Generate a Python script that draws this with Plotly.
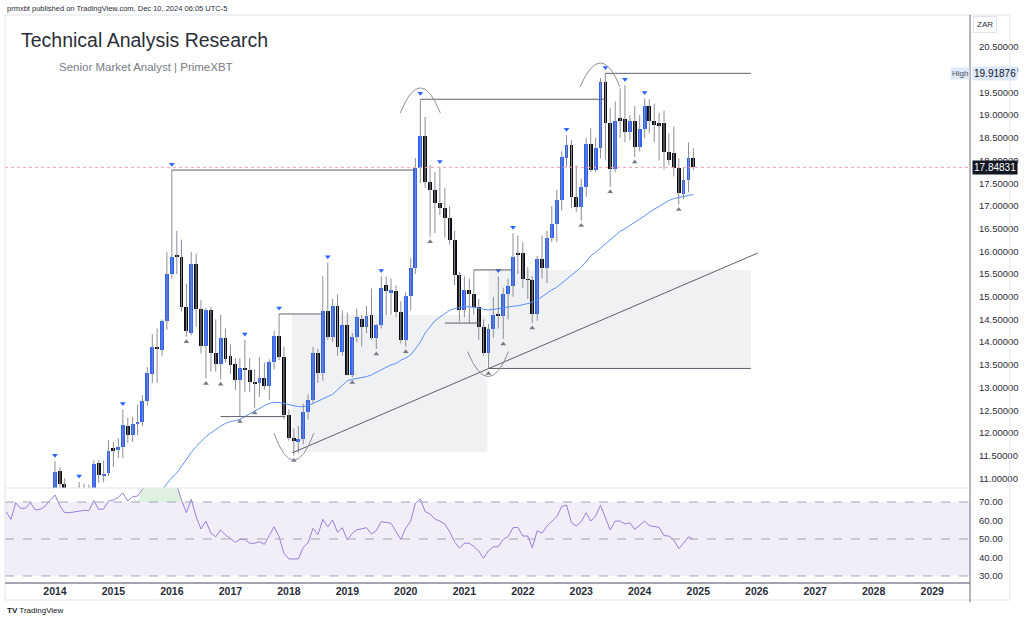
import plotly.graph_objects as go
import pandas as pd

# ---------------- DATA (USD/ZAR monthly) ----------------
dates = pd.date_range('2014-01-01', periods=132, freq='MS')

opens = [10.47, 11.16, 10.88, 10.55, 10.50, 10.45, 10.63, 10.72, 10.66, 11.33, 11.06, 11.11,
         11.66, 11.62, 11.70, 12.15, 11.95, 12.20, 12.23, 12.71, 13.30, 13.88, 13.83, 14.46,
         15.50, 15.92, 15.88, 14.78, 14.21, 15.72, 14.74, 13.91, 14.70, 13.76, 13.52, 14.10,
         13.70, 13.52, 13.17, 13.42, 13.39, 13.13, 13.09, 13.21, 13.03, 13.57, 14.13, 13.68,
         12.39, 11.88, 11.82, 11.86, 12.47, 12.72, 13.75, 13.31, 14.69, 14.12, 14.80, 13.78,
         14.38, 13.28, 14.12, 14.51, 14.33, 14.60, 14.08, 14.38, 15.26, 15.08, 15.13, 14.67,
         14.05, 15.02, 15.63, 17.83, 18.54, 17.53, 17.35, 17.07, 16.95, 16.73, 16.25, 15.48,
         14.71, 15.15, 15.05, 14.78, 14.34, 13.75, 14.28, 14.62, 14.58, 15.07, 15.23, 15.96,
         15.97, 15.39, 15.37, 14.63, 15.82, 15.63, 16.29, 16.60, 17.13, 18.05, 18.34, 17.20,
         16.98, 17.42, 18.36, 17.79, 18.27, 19.72, 18.82, 17.81, 18.93, 18.91, 18.63, 18.86,
         18.30, 18.69, 19.19, 18.86, 18.82, 18.82, 18.19, 18.17, 17.83, 17.26, 17.57, 18.06]
highs = [11.38, 11.25, 11.00, 10.75, 10.72, 10.92, 10.88, 10.86, 11.40, 11.40, 11.40, 11.84,
         11.80, 11.88, 12.52, 12.33, 12.35, 12.62, 12.83, 13.45, 14.18, 14.30, 14.50, 15.98,
         17.79, 16.45, 16.26, 15.29, 15.99, 15.95, 14.93, 14.75, 14.78, 14.50, 14.60, 14.30,
         13.95, 13.65, 13.64, 14.05, 13.65, 13.40, 13.67, 13.55, 13.62, 14.25, 14.62, 13.90,
         12.52, 12.10, 12.15, 12.64, 12.85, 13.90, 13.85, 15.45, 15.75, 14.95, 15.05, 14.70,
         14.65, 14.20, 14.74, 14.60, 14.80, 15.18, 14.40, 15.45, 15.45, 15.40, 15.25, 14.90,
         15.10, 15.85, 18.05, 19.35, 18.96, 17.90, 17.75, 17.85, 17.40, 17.00, 16.45, 15.55,
         15.45, 15.40, 15.59, 14.95, 14.50, 14.40, 15.00, 15.45, 15.20, 15.40, 16.40, 16.35,
         16.20, 15.65, 15.45, 15.90, 16.35, 16.45, 17.00, 17.35, 18.20, 18.56, 18.45, 17.90,
         17.60, 18.49, 18.71, 18.50, 19.82, 19.92, 19.15, 19.30, 19.59, 19.66, 19.00, 19.20,
         19.00, 19.37, 19.35, 19.25, 19.05, 19.10, 18.60, 18.75, 18.05, 17.85, 18.40, 18.27]
lows = [10.45, 10.66, 10.52, 10.38, 10.20, 10.40, 10.55, 10.52, 10.64, 10.90, 10.92, 11.05,
        11.25, 11.45, 11.45, 11.78, 11.80, 11.95, 12.15, 12.60, 13.10, 13.10, 13.70, 14.27,
        15.40, 15.50, 14.67, 14.12, 14.15, 14.34, 13.75, 13.20, 13.35, 13.35, 13.18, 13.55,
        13.30, 12.95, 12.36, 12.90, 12.90, 12.55, 12.79, 12.95, 12.73, 13.40, 13.60, 12.30,
        11.83, 11.50, 11.55, 11.75, 12.30, 12.65, 13.10, 13.15, 14.05, 14.00, 13.70, 13.70,
        13.27, 13.22, 14.00, 13.90, 14.20, 14.05, 13.85, 14.30, 14.60, 14.60, 14.55, 13.97,
        13.90, 14.70, 15.50, 17.50, 17.40, 16.32, 16.40, 16.80, 16.30, 16.15, 15.25, 14.45,
        14.55, 14.40, 14.60, 14.05, 13.70, 13.42, 14.10, 14.30, 14.07, 14.50, 15.00, 15.50,
        15.20, 14.95, 14.42, 14.47, 15.40, 15.30, 16.20, 16.20, 16.90, 17.85, 16.95, 16.87,
        16.68, 17.20, 17.75, 17.74, 18.05, 18.00, 17.42, 17.75, 18.50, 18.40, 18.45, 18.08,
        18.20, 18.50, 18.60, 18.40, 18.00, 17.80, 17.90, 17.65, 17.03, 17.15, 17.30, 17.79]
closes = [11.15, 10.88, 10.55, 10.50, 10.45, 10.63, 10.72, 10.66, 11.31, 11.07, 11.09, 11.61,
          11.60, 11.70, 12.17, 11.95, 12.20, 12.23, 12.71, 13.31, 13.89, 13.85, 14.46, 15.50,
          15.88, 15.88, 14.78, 14.25, 15.72, 14.74, 13.91, 14.70, 13.76, 13.52, 14.09, 13.62,
          13.50, 13.17, 13.42, 13.39, 13.13, 13.09, 13.21, 13.03, 13.57, 14.13, 13.68, 12.39,
          11.88, 11.84, 11.86, 12.47, 12.72, 13.75, 13.31, 14.69, 14.12, 14.80, 13.90, 14.38,
          13.28, 14.12, 14.55, 14.33, 14.58, 14.08, 14.38, 15.19, 15.13, 15.15, 14.67, 14.05,
          15.02, 15.63, 17.83, 18.54, 17.53, 17.35, 17.07, 16.95, 16.73, 16.25, 15.48, 14.71,
          15.15, 15.05, 14.78, 14.34, 13.75, 14.28, 14.60, 14.58, 15.07, 15.23, 15.88, 15.91,
          15.39, 15.37, 14.63, 15.82, 15.63, 16.29, 16.60, 17.13, 18.08, 18.34, 17.20, 16.98,
          17.42, 18.36, 17.79, 18.27, 19.72, 18.82, 17.81, 18.88, 18.88, 18.63, 18.86, 18.30,
          18.69, 19.19, 18.87, 18.78, 18.77, 18.19, 18.01, 17.83, 17.28, 17.57, 18.05, 17.84831]

# moving average (blue line), from Sep 2015 onward
ma_start = 20
ma_values = [10.45, 10.60, 10.75, 10.88, 11.02, 11.12, 11.26, 11.42, 11.57, 11.70, 11.82, 11.92,
             12.00, 12.08, 12.15, 12.21, 12.25, 12.27, 12.30, 12.36, 12.42, 12.48, 12.55, 12.60,
             12.65, 12.67, 12.67, 12.65, 12.62, 12.60, 12.58, 12.58, 12.60, 12.65, 12.70, 12.75,
             12.80, 12.85, 12.95, 13.05, 13.15, 13.18, 13.20, 13.22, 13.24, 13.28, 13.33, 13.40,
             13.45, 13.50, 13.53, 13.60, 13.65, 13.72, 13.85, 14.00, 14.20, 14.35, 14.47, 14.55,
             14.62, 14.70, 14.74, 14.76, 14.78, 14.78, 14.77, 14.75, 14.72, 14.71, 14.72, 14.74,
             14.76, 14.78, 14.79, 14.80, 14.82, 14.85, 14.88, 14.93, 15.00, 15.08, 15.15, 15.21,
             15.30, 15.40, 15.48, 15.56, 15.65, 15.78, 15.90, 15.98, 16.07, 16.17, 16.27, 16.36,
             16.44, 16.50, 16.57, 16.64, 16.70, 16.78, 16.86, 16.93, 17.00, 17.06, 17.12, 17.16,
             17.19, 17.21, 17.23, 17.25]

# RSI, monthly from Mar 2013
rsi_dates = pd.date_range('2013-03-01', periods=142, freq='MS')
rsi_values = [64.8, 60.6, 69.6, 66.6, 66.6, 69.6, 65.7, 66.0, 67.8, 70.5,
              73.8, 68.0, 64.4, 64.2, 64.6, 65.1, 65.5, 65.3, 70.7, 66.0, 66.2, 70.5,
              71.0, 72.5, 75.0, 70.5, 72.9, 73.2, 76.9, 79.5, 80.5, 79.0, 82.0, 88.0,
              85.0, 79.0, 71.1, 64.2, 71.5, 62.1, 55.4, 59.7, 53.1, 51.2, 54.9, 52.2,
              50.0, 48.2, 49.8, 49.8, 47.7, 47.7, 48.5, 47.1, 52.0, 56.6, 51.2, 42.3,
              39.2, 39.2, 39.2, 45.5, 48.0, 55.8, 52.2, 60.6, 56.6, 60.3, 53.6, 56.1,
              49.5, 53.0, 55.0, 55.5, 56.1, 52.7, 54.5, 59.4, 58.8, 58.5, 54.0, 49.8,
              55.8, 59.7, 69.3, 71.6, 64.8, 63.5, 60.8, 59.7, 58.1, 54.0, 48.5, 45.0,
              47.7, 47.7, 46.0, 43.5, 39.6, 43.7, 45.8, 45.8, 49.8, 51.2, 56.1, 56.3,
              51.6, 51.6, 45.3, 54.5, 53.1, 57.0, 59.4, 62.1, 67.5, 68.4, 58.8, 57.0,
              59.4, 64.2, 59.7, 62.4, 68.2, 61.5, 54.9, 59.7, 59.7, 58.1, 58.8, 55.2,
              57.2, 59.7, 57.2, 56.6, 56.3, 51.8, 51.6, 49.5, 44.8, 47.7, 51.2, 49.8]

pivot_high_idx = [0, 5, 14, 24, 39, 46, 56, 67, 75, 79, 91, 94, 105, 113, 117, 121]
pivot_low_idx = [27, 31, 34, 38, 41, 49, 61, 66, 72, 77, 89, 92, 98, 108, 114, 119, 128]

year_ticks = list(range(2014, 2030))
price_ticks = [11 + 0.5 * i for i in range(20)]
rsi_ticks = [30, 40, 50, 60, 70]
last_price = 17.84831
period_high = 19.91876

# ---------------- LAYOUT HELPERS ----------------
L_PX, R_PX, T_PX, B_PX, SEP_PX = 5, 973, 15, 583, 488


def pxx(px):
    return (px - L_PX) / (R_PX - L_PX)


def pxy(py):
    return (B_PX - py) / (B_PX - T_PX)


UP = '#2962ff'
DOWN = '#0b0b0f'
WICK = '#8c8f99'
DRAW = '#5d606b'

fig = go.Figure()

# wicks
wx, wy = [], []
for d, h, l in zip(dates, highs, lows):
    wx += [d, d, None]
    wy += [l, h, None]
fig.add_trace(go.Scatter(x=wx, y=wy, mode='lines', line=dict(color=WICK, width=1),
                         hoverinfo='skip', showlegend=False, xaxis='x', yaxis='y'))

# bodies
base = [min(o, c) for o, c in zip(opens, closes)]
height = [max(abs(c - o), 0.02) for o, c in zip(opens, closes)]
colors = [UP if c >= o else DOWN for o, c in zip(opens, closes)]
fig.add_trace(go.Bar(x=dates, y=height, base=base, width=24 * 86400000,
                     marker=dict(color=colors, line=dict(width=0)),
                     showlegend=False, xaxis='x', yaxis='y'))

# moving average
fig.add_trace(go.Scatter(x=dates[ma_start:], y=ma_values, mode='lines',
                         line=dict(color='#5b8ff9', width=1), showlegend=False,
                         xaxis='x', yaxis='y'))

# pivot markers
fig.add_trace(go.Scatter(x=[dates[i] for i in pivot_high_idx],
                         y=[highs[i] + 0.13 for i in pivot_high_idx], mode='markers',
                         marker=dict(symbol='triangle-down', size=5, color='#2962ff'),
                         showlegend=False, xaxis='x', yaxis='y'))
fig.add_trace(go.Scatter(x=[dates[i] for i in pivot_low_idx],
                         y=[lows[i] - 0.11 for i in pivot_low_idx], mode='markers',
                         marker=dict(symbol='triangle-up', size=5, color='#787b86'),
                         showlegend=False, xaxis='x', yaxis='y'))

# RSI overbought fill (only the strong overbought stretch shows a visible fill)
fig.add_trace(go.Scatter(x=rsi_dates, y=[70] * len(rsi_values), mode='lines',
                         line=dict(width=0), hoverinfo='skip', showlegend=False,
                         xaxis='x2', yaxis='y2'))
fig.add_trace(go.Scatter(x=rsi_dates, y=[v if v > 76 else 70 for v in rsi_values],
                         mode='lines', line=dict(width=0), fill='tonexty',
                         fillcolor='rgba(76,175,80,0.18)', hoverinfo='skip',
                         showlegend=False, xaxis='x2', yaxis='y2'))
fig.add_trace(go.Scatter(x=rsi_dates, y=rsi_values, mode='lines',
                         line=dict(color='#9a7fd6', width=1), showlegend=False,
                         xaxis='x2', yaxis='y2'))

shapes = []
# analysis boxes
shapes.append(dict(type='rect', xref='x', yref='y', x0='2018-01-22', x1='2021-05-25',
                   y0=11.58, y1=14.60, fillcolor='rgba(120,123,134,0.11)', line=dict(width=0),
                   layer='below'))
shapes.append(dict(type='rect', xref='x', yref='y', x0='2021-06-01', x1='2025-11-25',
                   y0=13.42, y1=15.59, fillcolor='rgba(120,123,134,0.11)', line=dict(width=0),
                   layer='below'))
# horizontal levels
levels = [('2016-01-01', '2020-03-01', 17.79), ('2020-04-01', '2023-05-25', 19.35),
          ('2023-06-01', '2025-11-25', 19.92), ('2016-11-01', '2017-12-10', 12.36),
          ('2017-11-01', '2018-08-01', 14.62), ('2021-03-01', '2021-10-25', 15.59),
          ('2020-09-01', '2021-04-15', 14.42), ('2021-06-01', '2025-11-25', 13.42)]
for xa, xb, yv in levels:
    shapes.append(dict(type='line', xref='x', yref='y', x0=xa, x1=xb, y0=yv, y1=yv,
                       line=dict(color=DRAW, width=1)))
# trend line
shapes.append(dict(type='line', xref='x', yref='y', x0='2018-01-22', y0=11.56,
                   x1='2026-01-06', y1=15.96, line=dict(color=DRAW, width=1)))
# arcs
arcs = [('2018-02-01', 11.40, 'M -20,27 Q 0,-27 20,27'),
        ('2020-04-01', 19.60, 'M -20,-25 Q 0,25 20,-25'),
        ('2021-06-01', 13.24, 'M -21,25 Q 0,-25 20,25'),
        ('2023-05-04', 20.15, 'M -21,-24 Q 0,24 19,-24')]
for xa, ya, p in arcs:
    shapes.append(dict(type='path', xref='x', yref='y', xsizemode='pixel', ysizemode='pixel',
                       xanchor=xa, yanchor=ya, path=p, line=dict(color='#8c8f99', width=1)))
# last price dotted line
shapes.append(dict(type='line', xref='paper', yref='y', x0=0, x1=1, y0=last_price,
                   y1=last_price, line=dict(color='#f7a3aa', width=1, dash='dot')))
# RSI band and levels
shapes.append(dict(type='rect', xref='paper', yref='y2', x0=0, x1=1, y0=30, y1=70,
                   fillcolor='rgba(126,87,194,0.10)', line=dict(width=0), layer='below'))
for lv in (70, 50, 30):
    shapes.append(dict(type='line', xref='paper', yref='y2', x0=0, x1=1, y0=lv, y1=lv,
                       line=dict(color='#a3a6af', width=1, dash='dash')))
# frame and separators
shapes.append(dict(type='rect', xref='paper', yref='paper', x0=0, x1=pxx(1013),
                   y0=pxy(600), y1=1, line=dict(color='#e0e3eb', width=1)))
shapes.append(dict(type='line', xref='paper', yref='paper', x0=0, x1=1, y0=pxy(SEP_PX),
                   y1=pxy(SEP_PX), line=dict(color='#e0e3eb', width=1)))
shapes.append(dict(type='line', xref='paper', yref='paper', x0=0, x1=1, y0=0, y1=0,
                   line=dict(color='#a3a6af', width=2)))
shapes.append(dict(type='line', xref='paper', yref='paper', x0=1, x1=1, y0=pxy(602), y1=1,
                   line=dict(color='#6a6d78', width=1)))

annotations = [
    dict(text='prmxbt published on TradingView.com, Dec 10, 2024 06:05 UTC-5', x=pxx(5),
         y=pxy(8), xref='paper', yref='paper', xanchor='left', yanchor='middle',
         showarrow=False, font=dict(size=7.5, color='#2a2e39', family='Liberation Sans')),
    dict(text='Technical Analysis Research', x=pxx(19), y=pxy(40), xref='paper',
         yref='paper', xanchor='left', yanchor='middle', showarrow=False,
         font=dict(size=19.5, color='#2a2e39', family='Liberation Sans')),
    dict(text='Senior Market Analyst | PrimeXBT', x=pxx(57), y=pxy(67), xref='paper',
         yref='paper', xanchor='left', yanchor='middle', showarrow=False,
         font=dict(size=11.5, color='#787b86', family='Liberation Sans')),
    dict(text='<b>TV</b> TradingView', x=pxx(5), y=pxy(610), xref='paper', yref='paper',
         xanchor='left', yanchor='middle', showarrow=False,
         font=dict(size=8, color='#131722', family='Liberation Sans')),
    dict(text='ZAR', x=pxx(976), y=pxy(25), xref='paper', yref='paper', xanchor='left',
         yanchor='middle', showarrow=False, bordercolor='#e0e3eb', borderwidth=1,
         borderpad=3, font=dict(size=8, color='#2a2e39', family='Liberation Sans')),
    dict(text='High', x=1, y=period_high, xref='paper', yref='y', xanchor='right',
         yanchor='middle', showarrow=False, bgcolor='#dde8fb', borderpad=1,
         font=dict(size=8, color='#50535e', family='Liberation Sans')),
    dict(text='%.5f' % period_high, x=pxx(975), y=period_high, xref='paper', yref='y',
         xanchor='left', yanchor='middle', showarrow=False, bgcolor='#dde8fb', borderpad=1,
         font=dict(size=10, color='#131722', family='Liberation Sans')),
    dict(text='%.5f' % last_price, x=pxx(975), y=last_price, xref='paper', yref='y',
         xanchor='left', yanchor='middle', showarrow=False, bgcolor='#131722', borderpad=1,
         font=dict(size=10, color='#ffffff', family='Liberation Sans')),
]

fig.update_layout(
    width=1024, height=621,
    margin=dict(l=L_PX, r=1024 - R_PX, t=T_PX, b=621 - B_PX, pad=0),
    paper_bgcolor='white', plot_bgcolor='white',
    showlegend=False, barmode='overlay', bargap=0,
    xaxis=dict(type='date', range=['2013-02-23', '2029-08-25'], domain=[0, 1],
               anchor='y', showticklabels=False, showgrid=False, zeroline=False,
               showline=False, fixedrange=True),
    xaxis2=dict(type='date', range=['2013-02-23', '2029-08-25'], domain=[0, 1],
                anchor='y2', matches='x', showgrid=False, zeroline=False, showline=False,
                tickvals=['%d-01-01' % y for y in year_ticks],
                ticktext=[str(y) for y in year_ticks], ticks='',
                tickfont=dict(size=10.5, color='#2a2e39', family='Liberation Sans',
                              weight='bold')),
    yaxis=dict(domain=[pxy(SEP_PX), 1], range=[10.787, 21.205], side='right',
               anchor='x', tickvals=price_ticks, tickformat='.5f', showgrid=False,
               zeroline=False, showline=False, ticks='', ticklabelstandoff=8,
               tickfont=dict(size=9.5, color='#2a2e39', family='Liberation Sans')),
    yaxis2=dict(domain=[0, pxy(SEP_PX)], range=[26.2, 77.57], side='right', anchor='x2',
                tickvals=rsi_ticks, ticktext=['%.2f' % v for v in rsi_ticks],
                showgrid=False, zeroline=False, showline=False, ticks='',
                ticklabelstandoff=8,
                tickfont=dict(size=9.5, color='#2a2e39', family='Liberation Sans')),
    shapes=shapes, annotations=annotations,
)

fig.write_html('out.html')
